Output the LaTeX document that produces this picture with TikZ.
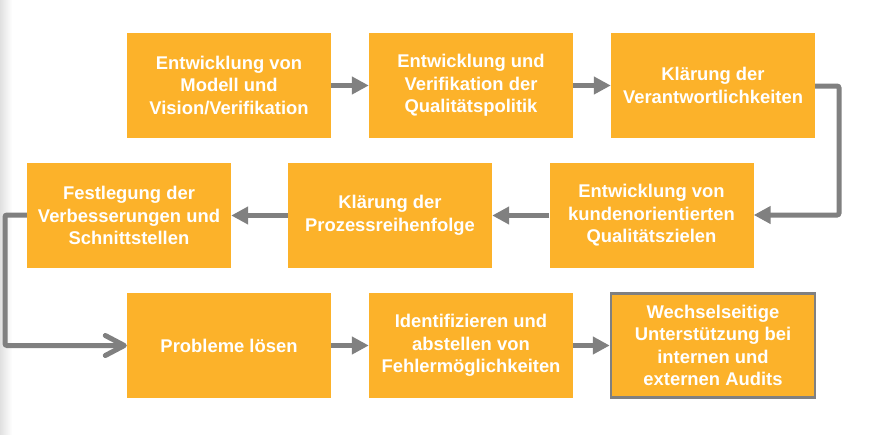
\documentclass[tikz,border=0pt]{standalone}
\usepackage{fontspec}
\setmainfont{Liberation Sans}
\usetikzlibrary{arrows.meta}
\definecolor{boxorange}{HTML}{FCB22A}
\definecolor{arrowgray}{HTML}{808080}
\tikzset{
  stepbox/.style={fill=boxorange, draw=none, minimum width=204pt, minimum height=105pt,
    inner sep=0pt, align=center, text=white,
    font=\fontsize{18.4}{22.6}\selectfont\bfseries},
  conn/.style={draw=arrowgray, line width=5pt, rounded corners=2pt,
    -{Triangle[length=17pt,width=17pt]}},
  openconn/.style={draw=arrowgray, line width=5pt, rounded corners=2pt,
    -{Straight Barb[length=19pt,width=20pt,round]}}
}
\begin{document}
\begin{tikzpicture}[x=1pt,y=-1pt]
\useasboundingbox (0,0) rectangle (888,434);
\fill[white] (0,0) rectangle (888,434);
\shade[left color=black!12, right color=white] (0,0) rectangle (12,434);
\node[stepbox] (b1) at (229,85.5) {Entwicklung von\\Modell und\\Vision/Verifikation};
\node[stepbox] (b2) at (471,85.5) {Entwicklung und\\Verifikation der\\Qualitätspolitik};
\node[stepbox] (b3) at (713,85.5) {Klärung der\\Verantwortlichkeiten};
\node[stepbox] (b4) at (129,215.5) {Festlegung der\\Verbesserungen und\\Schnittstellen};
\node[stepbox] (b5) at (390,215.5) {Klärung der\\Prozessreihenfolge};
\node[stepbox] (b6) at (651.5,215.5) {Entwicklung von\\kundenorientierten\\Qualitätszielen};
\node[stepbox] (b7) at (229,345.5) {Probleme lösen};
\node[stepbox] (b8) at (471,345.5) {Identifizieren und\\abstellen von\\Fehlermöglichkeiten};
\node[stepbox, draw=arrowgray, line width=2.5pt, minimum width=204pt, minimum height=104pt] (b9) at (713,345.5) {Wechselseitige\\Unterstützung bei\\internen und\\externen Audits};
\coordinate (r1) at (839,86);
\coordinate (r2) at (839,215);
\coordinate (l1) at (5,215);
\coordinate (l2) at (5,345.5);
\draw[conn] (b1.east) -- (b2.west);
\draw[conn] (b2.east) -- (b3.west);
\draw[conn] (b3.east |- r1) -- (r1) -- (r2) -- (b6.east |- r2);
\draw[conn] (b6.west) -- (b5.east);
\draw[conn] (b5.west) -- (b4.east);
\draw[openconn] (b4.west |- l1) -- (l1) -- (l2) -- (b7.west |- l2);
\draw[conn] (b7.east) -- (b8.west);
\draw[conn] (b8.east) -- (b9.west);
\end{tikzpicture}
\end{document}
